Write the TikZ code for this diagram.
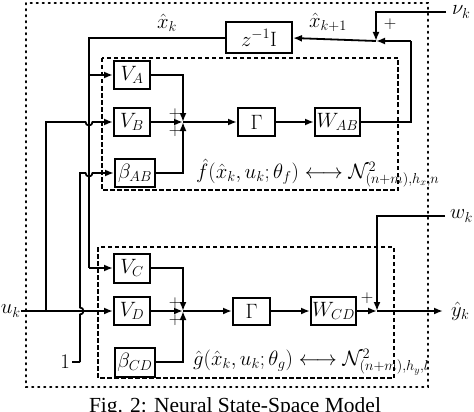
\documentclass[tikz,border=0pt]{standalone}
\usepackage[no-math]{fontspec}
\newfontfamily\capfont{Liberation Serif}
\usetikzlibrary{arrows.meta}
\begin{document}
\begin{tikzpicture}[x=1pt,y=-1pt,
  blk/.style={draw,line width=2pt,inner sep=0pt,font=\fontsize{20}{24}\selectfont},
  ln/.style={line width=1.8pt},
  arr/.style={line width=1.8pt,-{Latex[length=9pt,width=7pt]}},
  dbox/.style={line width=2pt,dash pattern=on 4.5pt off 2.5pt},
  obox/.style={line width=1.8pt,dash pattern=on 1.4pt off 4.6pt,line cap=round},
  lbl/.style={font=\fontsize{20}{24}\selectfont,inner sep=0pt},
  pl/.style={font=\fontsize{16}{18}\selectfont,inner sep=0pt}]
\useasboundingbox (0,0) rectangle (474,412);
% frames
\draw[obox] (26,3) rectangle (428,387);
\draw[dbox] (102,58) rectangle (398,190);
\draw[dbox] (98,247) rectangle (394,378);
% blocks
\node[blk,minimum width=66pt,minimum height=31pt] (z) at (259,38) {$z^{-1}\mathrm{I}$};
\node[blk,minimum width=36pt,minimum height=28pt] (VA) at (132,75) {$V_A$};
\node[blk,minimum width=36pt,minimum height=28pt] (VB) at (132,122) {$V_B$};
\node[blk,minimum width=40pt,minimum height=28pt] (bAB) at (135,173) {$\beta_{AB}$};
\node[blk,minimum width=37pt,minimum height=28pt] (G1) at (256.5,122) {$\Gamma$};
\node[blk,minimum width=45pt,minimum height=28pt] (WAB) at (337.5,122) {$W_{AB}$};
\node[blk,minimum width=36pt,minimum height=29pt] (VC) at (132,268) {$V_C$};
\node[blk,minimum width=36pt,minimum height=28pt] (VD) at (132,311) {$V_D$};
\node[blk,minimum width=40pt,minimum height=29pt] (bCD) at (135,362) {$\beta_{CD}$};
\node[blk,minimum width=37pt,minimum height=27pt] (G2) at (251.5,311) {$\Gamma$};
\node[blk,minimum width=45pt,minimum height=28pt] (WCD) at (333.5,311) {$W_{CD}$};
% junctions
\coordinate (s1) at (183,122);
\coordinate (s2) at (183,311);
\coordinate (s3) at (376,41);
\coordinate (s4) at (377,311);
\coordinate (jx) at (89,75);
\coordinate (ju) at (46,311);
\coordinate (j1) at (80,362);
% labels
\node[lbl] (xk) at (167,23) {$\hat{x}_k$};
\node[lbl] (xk1) at (328,22) {$\hat{x}_{k+1}$};
\node[lbl,anchor=west] (nu) at (452,12) {$\nu_k$};
\node[lbl,anchor=west] (wk) at (450,216) {$w_k$};
\node[lbl,anchor=west] (yk) at (451,311) {$\hat{y}_k$};
\node[lbl,anchor=east] (uk) at (21,311) {$u_k$};
\node[lbl,anchor=east] (one) at (70,362) {$1$};
\node[lbl,anchor=west] (flab) at (196,173) {$\hat{f}(\hat{x}_k,u_k;\theta_f)\longleftrightarrow\mathcal{N}^2_{(n+m),h_x,n}$};
\node[lbl,anchor=west] (glab) at (193,362) {$\hat{g}(\hat{x}_k,u_k;\theta_g)\longleftrightarrow\mathcal{N}^2_{(n+m),h_y,l}$};
\node[pl] (p1) at (175,114) {$+$};
\node[pl] (p2) at (175,131) {$+$};
\node[pl] (p3) at (175,303) {$+$};
\node[pl] (p4) at (175,320) {$+$};
\node[pl] (p5) at (390,24) {$+$};
\node[pl] (p6) at (367,298) {$+$};
\node[anchor=base,inner sep=0pt,font=\capfont\fontsize{21.5}{24}\selectfont] (cap) at (235,412) {Fig. 2: Neural State-Space Model};
% top section
\draw[ln] (z.west) -| (89,268);
\draw[arr] (89,268) -- (VC.west);
\draw[arr] (jx) -- (VA.west);
\draw[arr] (VA.east) -| (s1);
\draw[arr] (bAB.east) -| (s1);
\draw[arr] (VB.east) -- (s1);
\draw[arr] (s1) -- (G1.west);
\draw[arr] (G1.east) -- (WAB.west);
\draw[ln] (WAB.east) -- (411,122) -- (411,41);
\draw[arr] (411,41) -- (s3);
\draw[arr] (s3) -- (z.east);
\draw[arr] (nu.west) ++(-6,0) -- (376,12) -- (s3);
% inputs
\draw[ln] (uk.east) -- (ju);
\draw[arr] (ju) -- (VD.west);
\draw[arr] (ju) -- (46,122) -- (85.5,122) arc[start angle=180,end angle=0,radius=3.5] -- (VB.west);
\draw[ln] (one.east) ++(2,0) -- (j1);
\draw[arr] (j1) -- (80,314.5) arc[start angle=90,end angle=-90,radius=3.5] -- (80,173) -- (85.5,173) arc[start angle=180,end angle=0,radius=3.5] -- (bAB.west);
% bottom section
\draw[arr] (VC.east) -| (s2);
\draw[arr] (bCD.east) -| (s2);
\draw[arr] (VD.east) -- (s2);
\draw[arr] (s2) -- (G2.west);
\draw[arr] (G2.east) -- (WCD.west);
\draw[arr] (WCD.east) -- (s4);
\draw[arr] (wk.west) ++(-5,0) -- (377,216) -- (s4);
\draw[arr] (s4) -- (443,311);
\end{tikzpicture}
\end{document}
